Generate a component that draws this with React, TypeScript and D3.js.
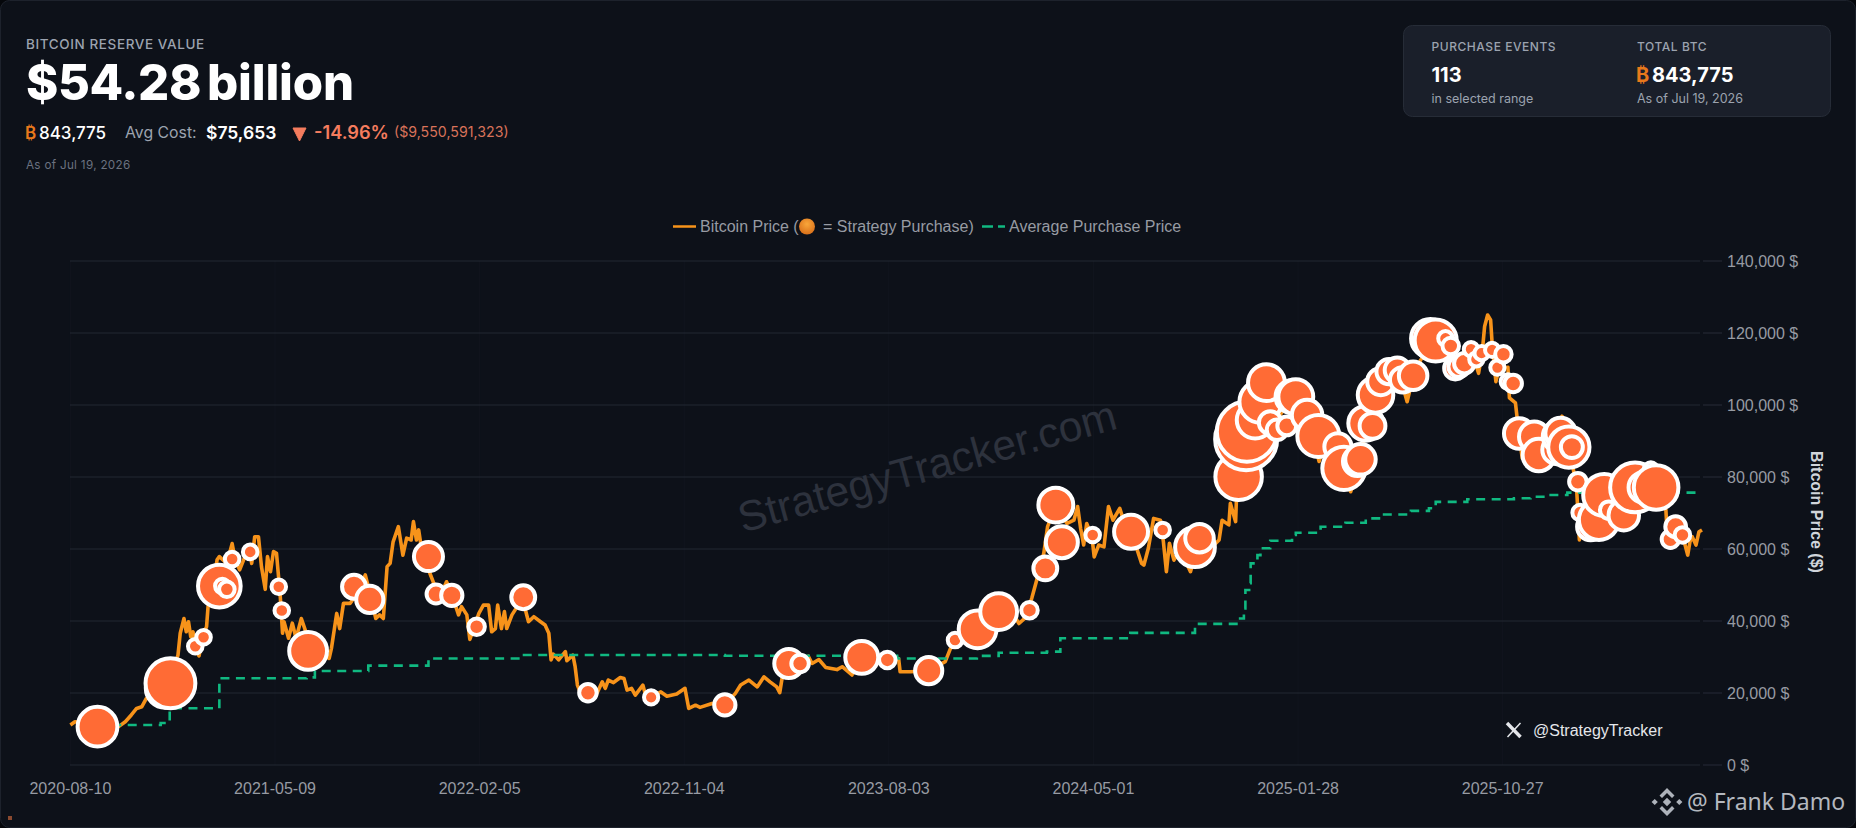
import * as d3 from 'd3';

// all series are keyed by day offset from the first category, 2020-08-10
const START_DATE = new Date(Date.UTC(2020, 7, 10));
const LAST_DAY = 2169;
const TICK_STEP = 272;
const TICK_COUNT = 8;
const PRICE_TICKS = [0, 20000, 40000, 60000, 80000, 100000, 120000, 140000];

const PRICE: [number, number][] = [
  [0, 11100], [6, 12000], [20, 11800], [35, 10600], [50, 10500], [64, 10650], [73, 12000], [81, 13900], [88, 15700],
  [95, 16200], [101, 18500], [115, 19000], [125, 22000], [133, 24000], [143, 30500], [146, 36600], [151, 40700],
  [154, 37000], [157, 39800], [160, 35600], [163, 37000], [167, 32000], [171, 30300], [177, 36600], [181, 38400],
  [183, 44000], [190, 50000], [195, 57000], [198, 57900], [208, 56000], [215, 61500], [219, 57000], [225, 54200],
  [232, 57900], [239, 58800], [241, 56000], [245, 63400], [250, 63400], [254, 55100], [259, 48800], [262, 57900],
  [266, 53700], [270, 59300], [274, 58800], [279, 46800], [282, 36600], [284, 39800], [290, 35200], [295, 39400],
  [300, 35200], [307, 40700], [313, 37000], [325, 33000], [335, 31000], [344, 29600], [347, 32400], [354, 42100],
  [358, 37900], [363, 44900], [372, 44900], [382, 48000], [392, 52800], [399, 47000], [406, 40700], [411, 41700],
  [416, 40700], [421, 55100], [425, 56000], [429, 62000], [436, 66200], [442, 58300], [447, 63000], [453, 62500],
  [456, 67600], [460, 62500], [463, 65300], [467, 59700], [473, 57000], [478, 53200], [483, 50500], [492, 47000],
  [500, 50900], [507, 48000], [511, 44900], [516, 41700], [520, 44000], [527, 41700], [531, 34900], [536, 37900],
  [543, 42100], [549, 44400], [556, 44400], [560, 37000], [565, 37900], [568, 44400], [573, 37900], [577, 42600],
  [580, 37900], [587, 41700], [594, 44000], [600, 46500], [605, 43000], [609, 39800], [616, 41200], [625, 39800],
  [631, 38900], [636, 36600], [639, 29200], [642, 30800], [649, 29200], [658, 31500], [660, 29000], [668, 30500],
  [671, 27300], [674, 22200], [680, 19000], [690, 20000], [700, 19900], [707, 23100], [711, 21300], [715, 23600],
  [722, 22900], [731, 24300], [736, 24000], [740, 20800], [746, 21300], [751, 19400], [761, 22200], [764, 19900],
  [772, 19000], [785, 20300], [793, 19100], [806, 19700], [817, 21300], [822, 15700], [831, 16600], [837, 16000],
  [853, 17100], [870, 16700], [884, 19900], [891, 22200], [902, 23600], [913, 21700], [922, 24500], [930, 23100],
  [939, 21700], [943, 20100], [946, 24000], [955, 28000], [970, 28000], [981, 30200], [986, 28200], [995, 29300],
  [1004, 27100], [1019, 26500], [1026, 27300], [1039, 25000], [1052, 29900], [1070, 30000], [1085, 29200],
  [1101, 29600], [1103, 25900], [1117, 25900], [1141, 26200], [1163, 28700], [1170, 32400], [1177, 34700],
  [1195, 35000], [1206, 37600], [1220, 37000], [1234, 42600], [1250, 43000], [1261, 39300], [1270, 41000],
  [1278, 46300], [1284, 50900], [1294, 58800], [1299, 66200], [1310, 72000], [1325, 67100], [1334, 68000],
  [1339, 71800], [1343, 65700], [1347, 61100], [1351, 67100], [1358, 63400], [1361, 57800], [1367, 61100],
  [1374, 60600], [1380, 71800], [1386, 68000], [1395, 71300], [1400, 68000], [1410, 65000], [1424, 56000],
  [1427, 55500], [1433, 60200], [1440, 68500], [1449, 68000], [1453, 62000], [1457, 53700], [1461, 61600],
  [1467, 56900], [1475, 60000], [1489, 53700], [1500, 62000], [1515, 60000], [1527, 62500], [1531, 68000],
  [1540, 66700], [1542, 72700], [1549, 67600], [1550, 73200], [1553, 80100], [1558, 90000], [1565, 92000],
  [1576, 96000], [1590, 106000], [1600, 95000], [1625, 102000], [1645, 97000], [1660, 84300], [1670, 92000],
  [1693, 82000], [1702, 75900], [1715, 85000], [1722, 94000], [1735, 102800], [1752, 109000], [1765, 110000],
  [1777, 100900], [1785, 108000], [1795, 112500], [1815, 118000], [1830, 118500], [1840, 110000], [1852, 112000],
  [1862, 115500], [1872, 108800], [1877, 115000], [1880, 121800], [1884, 125000], [1888, 123600], [1890, 117100],
  [1895, 106500], [1899, 110000], [1911, 110500], [1913, 102000], [1921, 100600], [1924, 95000], [1930, 85200],
  [1945, 91000], [1952, 86000], [1976, 88000], [1983, 96900], [1992, 88000], [2002, 78000], [2006, 62500],
  [2008, 70000], [2021, 66000], [2032, 68000], [2039, 75000], [2065, 69500], [2080, 77000], [2100, 82000],
  [2107, 77000], [2121, 70800], [2122, 67100], [2127, 62700], [2134, 66200], [2143, 63900], [2150, 58300],
  [2153, 62000], [2156, 63400], [2161, 61100], [2165, 64800], [2169, 65300],
];

const AVG_COST: [number, number][] = [
  [35, 11100], [120, 11650], [132, 15750], [198, 24100], [314, 24350], [325, 26100], [396, 27600], [476, 29600],
  [600, 30550], [870, 30350], [1099, 29600], [1205, 30300], [1234, 31200], [1298, 31500], [1316, 35200],
  [1409, 36700], [1495, 39200], [1553, 40700], [1560, 43500], [1562, 48600], [1567, 50500], [1569, 56000],
  [1578, 58300], [1582, 60200], [1595, 62300], [1624, 63900], [1629, 64500], [1662, 66200], [1689, 66700],
  [1695, 67300], [1722, 68500], [1742, 69600], [1782, 70600], [1806, 71300], [1815, 73100], [1857, 73800],
  [1919, 74100], [1941, 74500], [1963, 75000], [1990, 75650], [2169, 75650],
];

// day, price paid, btc bought
const PURCHASES: [number, number, number][] = [
  [36, 10650, 17500], [126, 21300, 16200], [133, 22700, 33600], [166, 33000, 24], [177, 35500, 24],
  [198, 49700, 21600], [202, 49700, 24], [208, 48800, 96], [215, 57200, 24], [239, 59200, 24], [277, 49500, 24],
  [281, 42900, 24], [316, 31700, 15000], [377, 49500, 2700], [398, 46000, 4700], [476, 57900, 6100],
  [486, 47500, 700], [507, 47100, 1500], [540, 38400, 216], [602, 46600, 2700], [688, 20100, 384],
  [772, 18800, 10], [870, 16700, 1500], [955, 28200, 6100], [970, 28200, 384], [1052, 29900, 9600],
  [1086, 29200, 216], [1141, 26200, 4700], [1176, 34700, 24], [1206, 37700, 15000], [1234, 42600, 13800],
  [1275, 43000, 216], [1296, 54600, 2700], [1310, 72200, 11600], [1318, 61900, 8700], [1359, 63900, 24],
  [1410, 64800, 10600], [1452, 65300, 24], [1495, 60500, 17500], [1501, 63000, 5700], [1553, 80100, 27700],
  [1563, 90500, 60000], [1564, 92600, 55300], [1575, 95800, 13800], [1582, 100900, 20700], [1590, 106200, 13800],
  [1595, 95100, 2100], [1604, 93100, 1200], [1617, 94200, 700], [1624, 102300, 9600], [1629, 102300, 11600],
  [1644, 97200, 7300], [1659, 91400, 20700], [1685, 88400, 4700], [1693, 82400, 22500], [1711, 84300, 6100],
  [1715, 84900, 7300], [1722, 94900, 11600], [1731, 94200, 3800], [1735, 102800, 12300], [1742, 106500, 4700],
  [1753, 109300, 3500], [1764, 109700, 3500], [1771, 107000, 3500], [1785, 108100, 5700], [1808, 118500, 16200],
  [1815, 117900, 20700], [1828, 118500, 24], [1835, 116400, 216], [1841, 110200, 1900], [1846, 110700, 1500],
  [1853, 111600, 1200], [1862, 115500, 24], [1869, 112700, 10], [1876, 114400, 10], [1890, 115300, 10],
  [1897, 110400, 10], [1905, 114100, 216], [1911, 106500, 24], [1918, 106000, 384], [1926, 92100, 7300],
  [1946, 91200, 7300], [1952, 86100, 9000], [1976, 87600, 6100], [1978, 91300, 7800], [1981, 92200, 7300],
  [1992, 88300, 19600], [1996, 88300, 1800], [2004, 78700, 384], [2007, 70100, 96], [2021, 66200, 4700],
  [2032, 68100, 18000], [2039, 75000, 20700], [2045, 70800, 384], [2065, 69400, 7300], [2080, 77100, 33600],
  [2092, 77100, 7800], [2101, 82100, 10], [2108, 77100, 24600], [2127, 62700, 384], [2134, 66200, 1300],
  [2143, 63900, 96],
];

const SANS = '"Liberation Sans", Arial, sans-serif';
const INTER = 'Inter, "Noto Sans", sans-serif';
const BG = '#0d1119';
const GRID = '#232833';
const MUTED = '#9ca3af';
const AXIS_TEXT = '#979ba3';
const BTC_ORANGE = '#f7931a';
const BTC_SYMBOL = '#e8791c';
const BUBBLE = '#ff6b35';
const AVG_GREEN = '#10b981';
const LOSS = '#f47c5e';

const formatDate = d3.utcFormat('%Y-%m-%d');

export default function App() {
  const x = d3.scaleLinear().domain([0, LAST_DAY]).range([70.4, 1702]);
  const y = d3.scaleLinear().domain([0, 140000]).range([765, 261]);
  const r = d3.scaleSqrt().domain([0, 60000]).range([6.8, 31]);

  const priceLine = d3.line<[number, number]>().x(d => x(d[0])).y(d => y(d[1]));
  const avgLine = d3.line<[number, number]>().x(d => x(d[0])).y(d => y(d[1])).curve(d3.curveStepAfter);

  const tickDays = d3.range(TICK_COUNT).map(i => i * TICK_STEP);

  return (
    <svg
      width={1856}
      height={828}
      style={{ position: 'absolute', left: 0, top: 0, display: 'block', background: '#05070b' }}
    >
      <defs>
        <radialGradient id="legendCoin" cx="50%" cy="35%" r="65%">
          <stop offset="0%" stopColor="#f9a63a" />
          <stop offset="100%" stopColor="#d9701a" />
        </radialGradient>
      </defs>
      <rect x={0.5} y={0.5} width={1855} height={827} rx={9} fill={BG} stroke="#1d222c" />

      {/* Header */}
      <text x={26} y={49} fontFamily={INTER} fontSize={13.5} fontWeight={500} letterSpacing={0.6} fill={MUTED}>
        BITCOIN RESERVE VALUE
      </text>
      <text x={26} y={100} fontFamily={INTER} fontSize={49} fontWeight={800} letterSpacing={-0.4} fill="#fff">$54.28</text>
      <text x={207} y={100} fontFamily={INTER} fontSize={49} fontWeight={800} letterSpacing={-0.2} fill="#fff">billion</text>

      <text x={25} y={139} fontFamily={INTER} fontSize={17} fontWeight={600} fill={BTC_SYMBOL}>₿</text>
      <text x={39} y={139} fontFamily={INTER} fontSize={17} fontWeight={500} fill="#fff">843,775</text>
      <text x={125} y={138} fontFamily={INTER} fontSize={15.8} fill={MUTED}>Avg Cost:</text>
      <text x={206} y={139} fontFamily={INTER} fontSize={17.5} fontWeight={600} fill="#fff">$75,653</text>
      <path d="M293,128 L306,128 L299.5,141 Z" fill={LOSS} stroke={LOSS} strokeLinejoin="round" />
      <text x={314} y={139} fontFamily={INTER} fontSize={18.2} fontWeight={600} fill={LOSS}>-14.96%</text>
      <text x={394} y={137} fontFamily={INTER} fontSize={14.2} fill="#d9735a">($9,550,591,323)</text>
      <text x={26} y={169} fontFamily={INTER} fontSize={11.7} letterSpacing={0.3} fill="#6b7280">As of Jul 19, 2026</text>

      {/* Stats box */}
      <rect x={1403.5} y={25.5} width={427} height={91} rx={9} fill="#1a1f2a" stroke="#262c37" />
      <text x={1431.5} y={51} fontFamily={INTER} fontSize={12} fontWeight={500} letterSpacing={0.55} fill={MUTED}>PURCHASE EVENTS</text>
      <text x={1431.5} y={82} fontFamily={INTER} fontSize={20} fontWeight={700} fill="#fff">113</text>
      <text x={1431.5} y={103} fontFamily={INTER} fontSize={12.5} fill={MUTED}>in selected range</text>
      <text x={1637} y={51} fontFamily={INTER} fontSize={12} fontWeight={500} letterSpacing={0.55} fill={MUTED}>TOTAL BTC</text>
      <text x={1636} y={82} fontFamily={INTER} fontSize={20} fontWeight={700} fill={BTC_SYMBOL}>₿</text>
      <text x={1652} y={82} fontFamily={INTER} fontSize={20} fontWeight={700} fill="#fff">843,775</text>
      <text x={1637} y={103} fontFamily={INTER} fontSize={12.5} fill={MUTED}>As of Jul 19, 2026</text>

      {/* Legend */}
      <line x1={673} x2={696} y1={226.5} y2={226.5} stroke={BTC_ORANGE} strokeWidth={2.5} />
      <text x={700} y={232} fontFamily={SANS} fontSize={16} fill={AXIS_TEXT}>Bitcoin Price (</text>
      <circle cx={807} cy={226.5} r={8} fill="url(#legendCoin)" />
      <text x={823} y={232} fontFamily={SANS} fontSize={16} fill={AXIS_TEXT}>= Strategy Purchase)</text>
      <line x1={982} x2={993} y1={226.5} y2={226.5} stroke={AVG_GREEN} strokeWidth={2.5} />
      <line x1={998} x2={1005} y1={226.5} y2={226.5} stroke={AVG_GREEN} strokeWidth={2.5} />
      <text x={1009} y={232} fontFamily={SANS} fontSize={16} fill={AXIS_TEXT}>Average Purchase Price</text>

      {/* Grid */}
      {tickDays.map(d => (
        <line key={d} x1={x(d)} x2={x(d)} y1={261} y2={765} stroke="#11151e" />
      ))}
      {PRICE_TICKS.map(t => (
        <g key={t}>
          <line x1={70} x2={1700} y1={y(t)} y2={y(t)} stroke={GRID} strokeWidth={1.2} />
          <line x1={1703} x2={1722} y1={y(t)} y2={y(t)} stroke={GRID} strokeWidth={1.2} />
          <text x={1727} y={y(t) + 5.5} fontFamily={SANS} fontSize={16} fill={AXIS_TEXT}>
            {d3.format(',')(t)} $
          </text>
        </g>
      ))}

      {/* Watermark */}
      <text
        transform="translate(927,466) rotate(-15.5)"
        dy={15}
        textAnchor="middle"
        fontFamily={SANS}
        fontSize={42.5}
        fill="#2d323d"
      >
        StrategyTracker.com
      </text>

      {/* Series */}
      <path d={priceLine(PRICE) ?? ''} fill="none" stroke={BTC_ORANGE} strokeWidth={3.6} strokeLinejoin="round" />
      <path d={avgLine(AVG_COST) ?? ''} fill="none" stroke={AVG_GREEN} strokeWidth={2.6} strokeDasharray="9 6.5" />
      {PURCHASES.map(([day, price, btc]) => (
        <circle key={day} cx={x(day)} cy={y(price)} r={r(btc)} fill={BUBBLE} stroke="#fff" strokeWidth={4} />
      ))}

      {/* Axis labels */}
      {tickDays.map(d => (
        <text key={d} x={x(d)} y={794} textAnchor="middle" fontFamily={SANS} fontSize={16} fill={AXIS_TEXT}>
          {formatDate(d3.utcDay.offset(START_DATE, d))}
        </text>
      ))}
      <text
        transform="translate(1816,512) rotate(90)"
        dy={5}
        textAnchor="middle"
        fontFamily={SANS}
        fontSize={16}
        fontWeight={700}
        fill="#d1d5db"
      >
        Bitcoin Price ($)
      </text>

      {/* Handles */}
      <path d="M1507,723 L1520.5,737" stroke="#e5e7eb" strokeWidth={3.4} fill="none" />
      <path d="M1520.5,723 L1507.5,737" stroke="#e5e7eb" strokeWidth={1.5} fill="none" />
      <text x={1533} y={735.5} fontFamily={SANS} fontSize={16} fill="#e5e7eb">@StrategyTracker</text>
      <g fill="#aeb3bb" transform="translate(1667,802)">
        <rect x={-3} y={-3} width={6} height={6} transform="rotate(45)" />
        <rect x={-14.5} y={-2.2} width={4.4} height={4.4} transform="rotate(45 -12.3 0)" />
        <rect x={10.1} y={-2.2} width={4.4} height={4.4} transform="rotate(45 12.3 0)" />
        <path d="M0,-14 L7.5,-6.5 L5,-4 L0,-9 L-5,-4 L-7.5,-6.5 Z" />
        <path d="M0,14 L7.5,6.5 L5,4 L0,9 L-5,4 L-7.5,6.5 Z" />
      </g>
      <text x={1687} y={810} fontFamily="'Noto Sans', sans-serif" fontSize={23} fill="#b4b8bf">
        @ Frank Damo
      </text>
      <rect x={8} y={816} width={4} height={4} fill="#8a4a30" />
    </svg>
  );
}
